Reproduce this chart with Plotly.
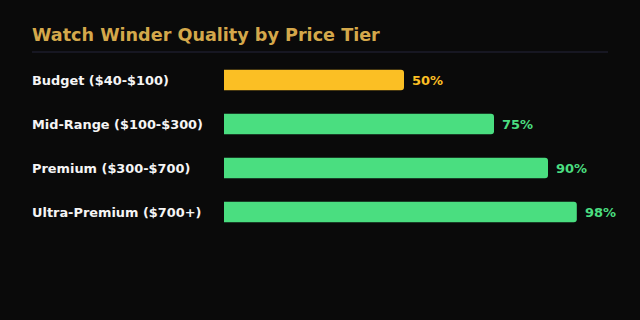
import plotly.graph_objects as go

categories = ["Budget ($40-$100)", "Mid-Range ($100-$300)", "Premium ($300-$700)", "Ultra-Premium ($700+)"]
values = [50, 75, 90, 98]
value_labels = ["50%", "75%", "90%", "98%"]
colors = ["#fbbf24", "#4ade80", "#4ade80", "#4ade80"]

W, H = 640, 320
ml, mr, mt, mb = 224, 56, 58, 86
pw = W - ml - mr
ph = H - mt - mb

fig = go.Figure()
fig.add_trace(go.Bar(
    x=values, y=categories, orientation="h",
    marker=dict(color=colors, line=dict(width=0)),
    width=0.47, hoverinfo="skip",
))

annotations = []
for c, v, t, col in zip(categories, values, value_labels, colors):
    annotations.append(dict(x=v, y=c, xref="x", yref="y", text=t, showarrow=False,
                            xanchor="left", yanchor="middle", xshift=6,
                            font=dict(family="DejaVu Sans", size=13, color=col, weight="bold")))
    annotations.append(dict(x=(30 - ml) / pw, y=c, xref="paper", yref="y", text=c, showarrow=False,
                            xanchor="left", yanchor="middle",
                            font=dict(family="DejaVu Sans", size=12.9, color="#f5f5f5", weight="bold")))

fig.update_layout(
    width=W, height=H,
    margin=dict(l=ml, r=mr, t=mt, b=mb, pad=0),
    paper_bgcolor="#0a0a0a", plot_bgcolor="#0a0a0a",
    barcornerradius=3,
    showlegend=False,
    title=dict(text="Watch Winder Quality by Price Tier", x=32 / W, xanchor="left",
               y=1 - 35 / H, yanchor="middle", xref="container", yref="container",
               font=dict(family="DejaVu Sans", size=17.6, color="#d4a84b", weight="bold")),
    xaxis=dict(range=[0, 100], visible=False, fixedrange=True),
    yaxis=dict(range=[3.5, -0.5], visible=False, fixedrange=True),
    annotations=annotations,
    shapes=[dict(type="line", xref="paper", yref="paper",
                 x0=(32 - ml) / pw, x1=(608 - ml) / pw,
                 y0=(mt + ph - 52) / ph, y1=(mt + ph - 52) / ph,
                 line=dict(color="#25253a", width=1))],
)

fig.write_html("out.html", config={"displayModeBar": False})
